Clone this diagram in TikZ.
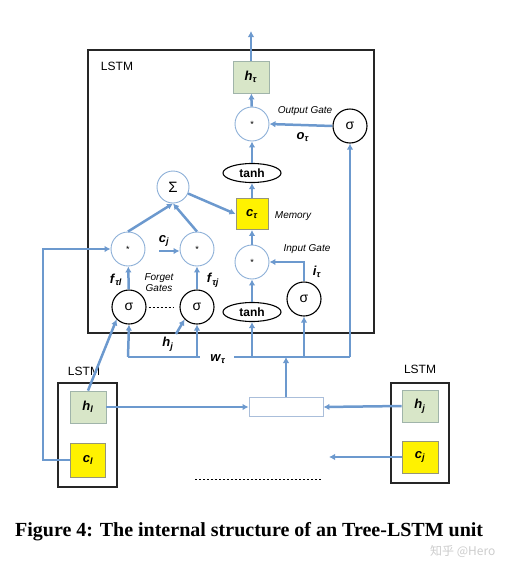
\documentclass[tikz,border=0pt]{standalone}
\usepackage{fontspec}
\setmainfont{Liberation Sans}
\newfontfamily\capfont{Liberation Serif}
\newfontfamily\markfont{Noto Sans CJK SC}
\usetikzlibrary{calc}
\usetikzlibrary{arrows.meta}
\usetikzlibrary{shapes.geometric}

\definecolor{lineblue}{RGB}{108,153,206}
\definecolor{ringblue}{RGB}{140,175,215}
\definecolor{hgreen}{RGB}{216,230,200}
\definecolor{hborder}{RGB}{160,180,170}
\definecolor{cborder}{RGB}{150,150,120}
\definecolor{inblue}{RGB}{170,190,218}

% bold italic variable with subscript
\newcommand\vsym[2]{\textbf{\textit{#1}}\textsubscript{\textbf{\textit{#2}}}}

\tikzset{
  flow/.style={draw=lineblue, line width=2.5pt, -{Latex[length=6pt,width=6.5pt]}},
  wire/.style={draw=lineblue, line width=2.5pt},
  mult/.style={circle, draw=ringblue, line width=0.9pt, minimum size=34pt, inner sep=0pt, font=\fontsize{9}{9}\selectfont},
  gate/.style={circle, draw=black, line width=1.1pt, minimum size=34pt, inner sep=0pt, font=\fontsize{14}{14}\selectfont},
  squash/.style={ellipse, draw=black, line width=1.1pt, minimum width=58pt, minimum height=19pt, inner sep=0pt, font=\bfseries\fontsize{12}{12}\selectfont},
  hbox/.style={draw=hborder, fill=hgreen, line width=0.9pt, minimum width=36pt, minimum height=32pt, inner sep=0pt, font=\fontsize{13}{13}\selectfont},
  cbox/.style={draw=cborder, fill=yellow, line width=0.9pt, minimum width=32pt, minimum height=31pt, inner sep=0pt, font=\fontsize{13}{13}\selectfont},
  unitbox/.style={draw=black!85, line width=1.6pt},
  lbl/.style={font=\itshape\fontsize{10}{11}\selectfont, align=center},
  sym/.style={font=\fontsize{13}{13}\selectfont},
  tag/.style={font=\fontsize{12}{12}\selectfont},
}

\begin{document}
\begin{tikzpicture}[x=1pt, y=-1pt]
    \useasboundingbox (0,0) rectangle (525,563);

    % Outer LSTM unit
    \draw[unitbox] (88,50) rectangle (374,333);
    \node[tag] (lstmtop) at (117,66) {LSTM};

    % Output path
    \coordinate (out) at (251,31);
    \node[hbox] (ht) at (251,77) {\vsym{h}{τ}};
    \node[mult] (mout) at (252,124) {*};
    \node[gate] (sout) at (350,126) {σ};
    \node[squash] (tanhup) at (252,173) {tanh};
    \node[cbox] (ct) at (252,214) {\vsym{c}{τ}};
    \node[mult] (min) at (252,262) {*};
    \node[gate] (sin) at (304,299) {σ};
    \node[squash] (tanhdn) at (252,312) {tanh};

    % Forget gates
    \node[circle, draw=ringblue, line width=0.9pt, minimum size=32pt, inner sep=0pt, font=\fontsize{15}{15}\selectfont] (sum) at (173,187) {Σ};
    \node[mult] (mfl) at (128,249) {*};
    \node[mult] (mfj) at (197,249) {*};
    \node[gate] (sfl) at (129,307) {σ};
    \node[gate] (sfj) at (197,307) {σ};

    % Labels
    \node[lbl] (outgate) at (305,111) {Output Gate};
    \node[sym] (ot) at (303,137) {\vsym{o}{τ}};
    \node[lbl] (mem) at (293,216) {Memory};
    \node[lbl] (ingate) at (307,249) {Input Gate};
    \node[sym] (it) at (317,272) {\vsym{i}{τ}};
    \node[sym] (ftl) at (116,280) {\vsym{f}{τl}};
    \node[sym] (ftj) at (213,280) {\vsym{f}{τj}};
    \node[lbl] (fgates) at (159,283) {Forget\\Gates};
    \node[sym] (cjin) at (164,241) {\vsym{c}{j}};
    \node[sym] (hjin) at (168,344) {\vsym{h}{j}};
    \node[sym] (wt) at (218,359) {\vsym{w}{τ}};

    % Inner connectors
    \draw[flow] (ht.north) -- (out);
    \draw[flow] (mout) -- (ht);
    \draw[flow] (sout.west) -- (mout.east);
    \draw[flow] (tanhup) -- (mout);
    \draw[flow] (ct) -- (tanhup);
    \draw[flow] (min) -- (ct);
    \draw[flow] (sin.north) |- (min.east);
    \draw[flow] (tanhdn) -- (min);
    \draw[flow] (sum) -- (ct.west);
    \draw[flow] (mfl.north) -- (sum.south);
    \draw[flow] (mfj.north) -- (sum.south);
    \draw[flow] (sfl) -- (mfl);
    \draw[flow] (sfj) -- (mfj);
    \draw[black, line width=0.6pt, dash pattern=on 2pt off 2pt, shorten <=2pt, shorten >=5pt] (sfl.east) -- (sfj.west);
    \coordinate (cjtail) at (159,251);
    \draw[flow] (cjtail) -- (cjtail -| mfj.west);
    \coordinate (hjtail) at (176,334);
    \draw[flow] (hjtail) -- (sfj.south west);

    % Input bus
    \coordinate (busA) at (128,357);
    \coordinate (busB) at (200,357);
    \coordinate (busC) at (234,357);
    \coordinate (busD) at (350,357);
    \draw[wire] (busA) -- (busB);
    \draw[wire] (busC) -- (busD);
    \draw[flow] (busA) -- (sfl.south);
    \draw[flow] (busA -| sfj) -- (sfj.south);
    \draw[flow] (busA -| tanhdn) -- (tanhdn.south);
    \draw[flow] (busA -| sin) -- (sin.south);
    \draw[flow] (busD) -- (sout.south);

    % Input merge
    \node[draw=inblue, line width=0.9pt, minimum width=74pt, minimum height=19pt, inner sep=0pt] (merge) at (286,407) {};
    \draw[flow] (merge.north) -- (merge.north |- busA);

    % Left child LSTM
    \draw[unitbox] (58,383) rectangle (117,487);
    \node[tag] (lstml) at (84,371) {LSTM};
    \node[hbox] (hl) at (88,407) {\vsym{h}{l}};
    \node[cbox, minimum width=35pt, minimum height=34pt] (cl) at (88,460) {\vsym{c}{l}};

    % Right child LSTM
    \draw[unitbox] (391,383) rectangle (449,483);
    \node[tag] (lstmr) at (420,369) {LSTM};
    \node[hbox] (hj) at (420,406) {\vsym{h}{j}};
    \node[cbox, minimum width=36pt, minimum height=32pt] (cj) at (420,457) {\vsym{c}{j}};

    % Child connectors
    \draw[flow] (hl.east) -- (merge.west);
    \draw[flow] (hj.west) -- (merge.east);
    \draw[flow] (hl.north) -- (sfl.south west);
    \coordinate (clbend) at (43,460);
    \draw[flow] (cl.west) -- (clbend) |- (mfl.west);
    \coordinate (cjhead) at (329,457);
    \draw[flow] (cj.west) -- (cjhead);
    \draw[black, line width=0.6pt, dash pattern=on 1.5pt off 2.5pt] (195,479) -- (322,479);

    % Caption
    \node[anchor=base west, font=\capfont\bfseries\fontsize{20}{20}\selectfont, inner sep=0pt] (cap) at (15,536) {Figure 4: The internal structure of an Tree-LSTM unit};
    \node[anchor=base west, font=\markfont\fontsize{12}{12}\selectfont, text=black!20, inner sep=0pt] (mark) at (430,555) {知乎 @Hero};
\end{tikzpicture}
\end{document}
